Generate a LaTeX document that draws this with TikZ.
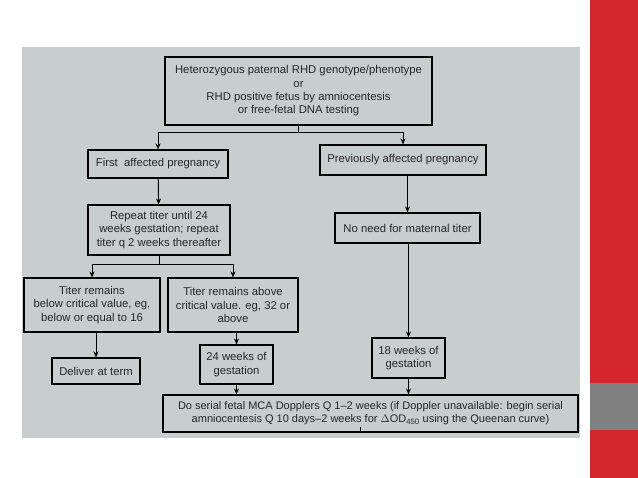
\documentclass[tikz,border=0pt]{standalone}
\usepackage{fontspec}
\setmainfont{Liberation Sans}
\usetikzlibrary{arrows.meta}
\begin{document}
\begin{tikzpicture}[x=1pt,y=-1pt,
  bx/.style={draw=black,line width=1.1pt,fill=paper,align=center,inner sep=1pt,font=\fontsize{11.3}{13.3}\selectfont,text=black!85},
  ar/.style={line width=1pt,-{Stealth[length=6pt,width=5pt]}},
  ln/.style={line width=1pt}]
\definecolor{paper}{RGB}{200,205,208}
\definecolor{slred}{RGB}{212,39,45}
\useasboundingbox (0,0) rectangle (638,478);
\fill[white] (0,0) rectangle (638,478);
\fill[paper] (22,47) rectangle (580,438);
\fill[slred] (590,0) rectangle (638,478);
\fill[gray] (590,383) rectangle (638,430);
\node[bx,minimum width=267pt,minimum height=68pt] (top) at (298.5,91) {Heterozygous paternal RHD genotype/phenotype\\or\\RHD positive fetus by amniocentesis\\or free-fetal DNA testing};
\node[bx,minimum width=140pt,minimum height=28pt] (first) at (158,164) {First\ \ affected pregnancy};
\node[bx,minimum width=166pt,minimum height=30pt] (prev) at (403,160) {Previously affected pregnancy};
\node[bx,minimum width=142pt,minimum height=50pt] (rep) at (159,230) {Repeat titer until 24\\weeks gestation; repeat\\titer q 2 weeks thereafter};
\node[bx,minimum width=145pt,minimum height=30pt] (noneed) at (407.5,228) {No need for maternal titer};
\node[bx,minimum width=136pt,minimum height=54pt] (below) at (92,305) {Titer remains\\below critical value, eg,\\below or equal to 16};
\node[bx,minimum width=130pt,minimum height=54pt] (above) at (233,305) {Titer remains above\\critical value. eg, 32 or\\above};
\node[bx,minimum width=88pt,minimum height=26pt] (deliver) at (96,371) {Deliver at term};
\node[bx,minimum width=73pt,minimum height=39pt] (w24) at (236.5,364.5) {24 weeks of\\gestation};
\node[bx,minimum width=73pt,minimum height=40pt] (w18) at (408.5,358) {18 weeks of\\gestation};
\node[bx,minimum width=415pt,minimum height=37pt,font=\fontsize{11}{13}\selectfont] (dop) at (370.5,413.5) {Do serial fetal MCA Dopplers Q 1--2 weeks (if Doppler unavailable: begin serial\\amniocentesis Q 10 days--2 weeks for $\Delta$OD\textsubscript{450} using the Queenan curve)};
\coordinate (j1) at (top.south |- 0,133);
\draw[ln] (top.south) -- (j1);
\draw[ar] (j1) -| (first.north);
\draw[ar] (j1) -| (prev.north);
\draw[ar] (first) -- (rep);
\draw[ar] (prev.south -| noneed.north) -- (noneed.north);
\coordinate (j2) at (rep.south |- 0,265);
\draw[ln] (rep.south) -- (j2);
\draw[ar] (j2) -| (below.north);
\draw[ar] (j2) -| (above.north);
\draw[ar] (below.south -| deliver.north) -- (deliver.north);
\draw[ar] (above.south -| w24.north) -- (w24.north);
\draw[ar] (noneed.south -| w18.north) -- (w18.north);
\draw[ar] (w24.south) -- (w24.south |- dop.north);
\draw[ar] (w18.south) -- (w18.south |- dop.north);
\coordinate (d0) at ([xshift=-10pt,yshift=6pt]dop.south);
\draw[ln,line width=1.5pt] (dop.south -| d0) -- (d0);
\end{tikzpicture}
\end{document}
